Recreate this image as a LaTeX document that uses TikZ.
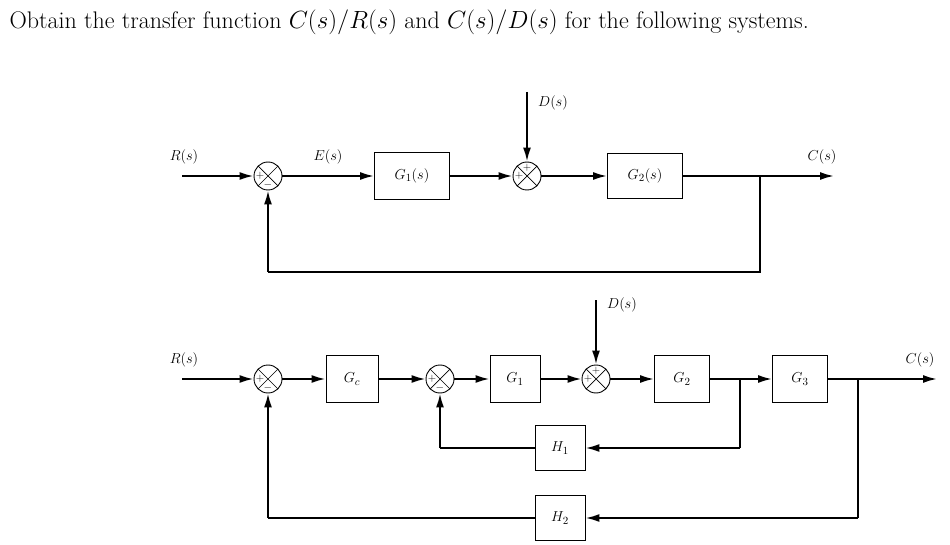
\documentclass[tikz,border=0pt]{standalone}
\usetikzlibrary{arrows.meta}
\begin{document}
\begin{tikzpicture}[x=1pt,y=1pt,yscale=-1,
  blk/.style={draw,line width=0.9pt,inner sep=0pt,font=\fontsize{15}{17}\selectfont},
  sumj/.style={draw,circle,line width=0.9pt,minimum size=28pt,inner sep=0pt,
    path picture={\draw[line width=0.7pt] (path picture bounding box.north west)--(path picture bounding box.south east)
      (path picture bounding box.north east)--(path picture bounding box.south west);}},
  sig/.style={font=\fontsize{11}{12}\selectfont,inner sep=0pt},
  lbl/.style={font=\fontsize{14}{16}\selectfont,inner sep=0pt},
  sig line/.style={line width=2pt,-{Latex[length=14pt,width=8pt]}},
  wire/.style={line width=2pt}]
\useasboundingbox (0,0) rectangle (950,545);
\node[anchor=west,font=\fontsize{24}{28}\selectfont] at (6,22)
  {Obtain the transfer function $C(s)/R(s)$ and $C(s)/D(s)$ for the following systems.};
% ---------- top system
\coordinate (r1) at (182,176);
\node[sumj] (s1) at (268,176) {};
\node[sig] at (260,176) {+}; \node[sig] at (268,185) {$-$};
\node[blk,minimum width=75pt,minimum height=47pt] (g1) at (412,176) {$G_1(s)$};
\node[sumj] (s2) at (527,176) {};
\node[sig] at (519,176) {+}; \node[sig] at (527,168) {+};
\coordinate (d1) at (527,92);
\node[blk,minimum width=75pt,minimum height=45pt] (g2) at (645,176) {$G_2(s)$};
\coordinate (b1) at (760,176);
\coordinate (c1) at (834,176);
\coordinate (f1) at (760,272);
\coordinate (f1l) at (268,272);
\draw[sig line] (r1) -- (s1);
\draw[sig line] (s1) -- (g1);
\draw[sig line] (g1) -- (s2);
\draw[sig line] (d1) -- (s2);
\draw[sig line] (s2) -- (g2);
\draw[sig line] (g2) -- (c1);
\draw[wire] (b1) -- (f1) -- (f1l);
\draw[sig line] (f1l) -- (s1);
\node[lbl] at (184,157) {$R(s)$};
\node[lbl] at (328,157) {$E(s)$};
\node[lbl] at (553,103) {$D(s)$};
\node[lbl] at (822,157) {$C(s)$};
% ---------- bottom system
\coordinate (r2) at (182,379);
\node[sumj] (t1) at (268,379) {};
\node[sig] at (260,379) {+}; \node[sig] at (268,388) {$-$};
\node[blk,minimum width=52pt,minimum height=47pt] (gc) at (352,379) {$G_c$};
\node[sumj] (t2) at (440,379) {};
\node[sig] at (432,379) {+}; \node[sig] at (440,388) {$-$};
\node[blk,minimum width=50pt,minimum height=47pt] (gg1) at (515,379) {$G_1$};
\node[sumj] (t3) at (596,379) {};
\node[sig] at (588,379) {+}; \node[sig] at (596,371) {+};
\coordinate (d2) at (596,300);
\node[blk,minimum width=55pt,minimum height=47pt] (gg2) at (682,379) {$G_2$};
\node[blk,minimum width=55pt,minimum height=47pt] (gg3) at (800,379) {$G_3$};
\node[blk,minimum width=50pt,minimum height=45pt] (h1) at (560,448) {$H_1$};
\node[blk,minimum width=50pt,minimum height=45pt] (h2) at (560,518) {$H_2$};
\coordinate (b2) at (740,379);
\coordinate (b2d) at (740,448);
\coordinate (b3) at (858,379);
\coordinate (b3d) at (858,518);
\coordinate (c2) at (937,379);
\coordinate (h1l) at (440,448);
\coordinate (h2l) at (268,518);
\draw[sig line] (r2) -- (t1);
\draw[sig line] (t1) -- (gc);
\draw[sig line] (gc) -- (t2);
\draw[sig line] (t2) -- (gg1);
\draw[sig line] (gg1) -- (t3);
\draw[sig line] (d2) -- (t3);
\draw[sig line] (t3) -- (gg2);
\draw[sig line] (gg2) -- (gg3);
\draw[sig line] (gg3) -- (c2);
\draw[wire] (b2) -- (b2d);
\draw[sig line] (b2d) -- (h1);
\draw[wire] (b3) -- (b3d);
\draw[sig line] (b3d) -- (h2);
\draw[wire] (h1) -- (h1l);
\draw[sig line] (h1l) -- (t2);
\draw[wire] (h2) -- (h2l);
\draw[sig line] (h2l) -- (t1);
\node[lbl] at (184,360) {$R(s)$};
\node[lbl] at (622,305) {$D(s)$};
\node[lbl] at (920,360) {$C(s)$};
\end{tikzpicture}
\end{document}
